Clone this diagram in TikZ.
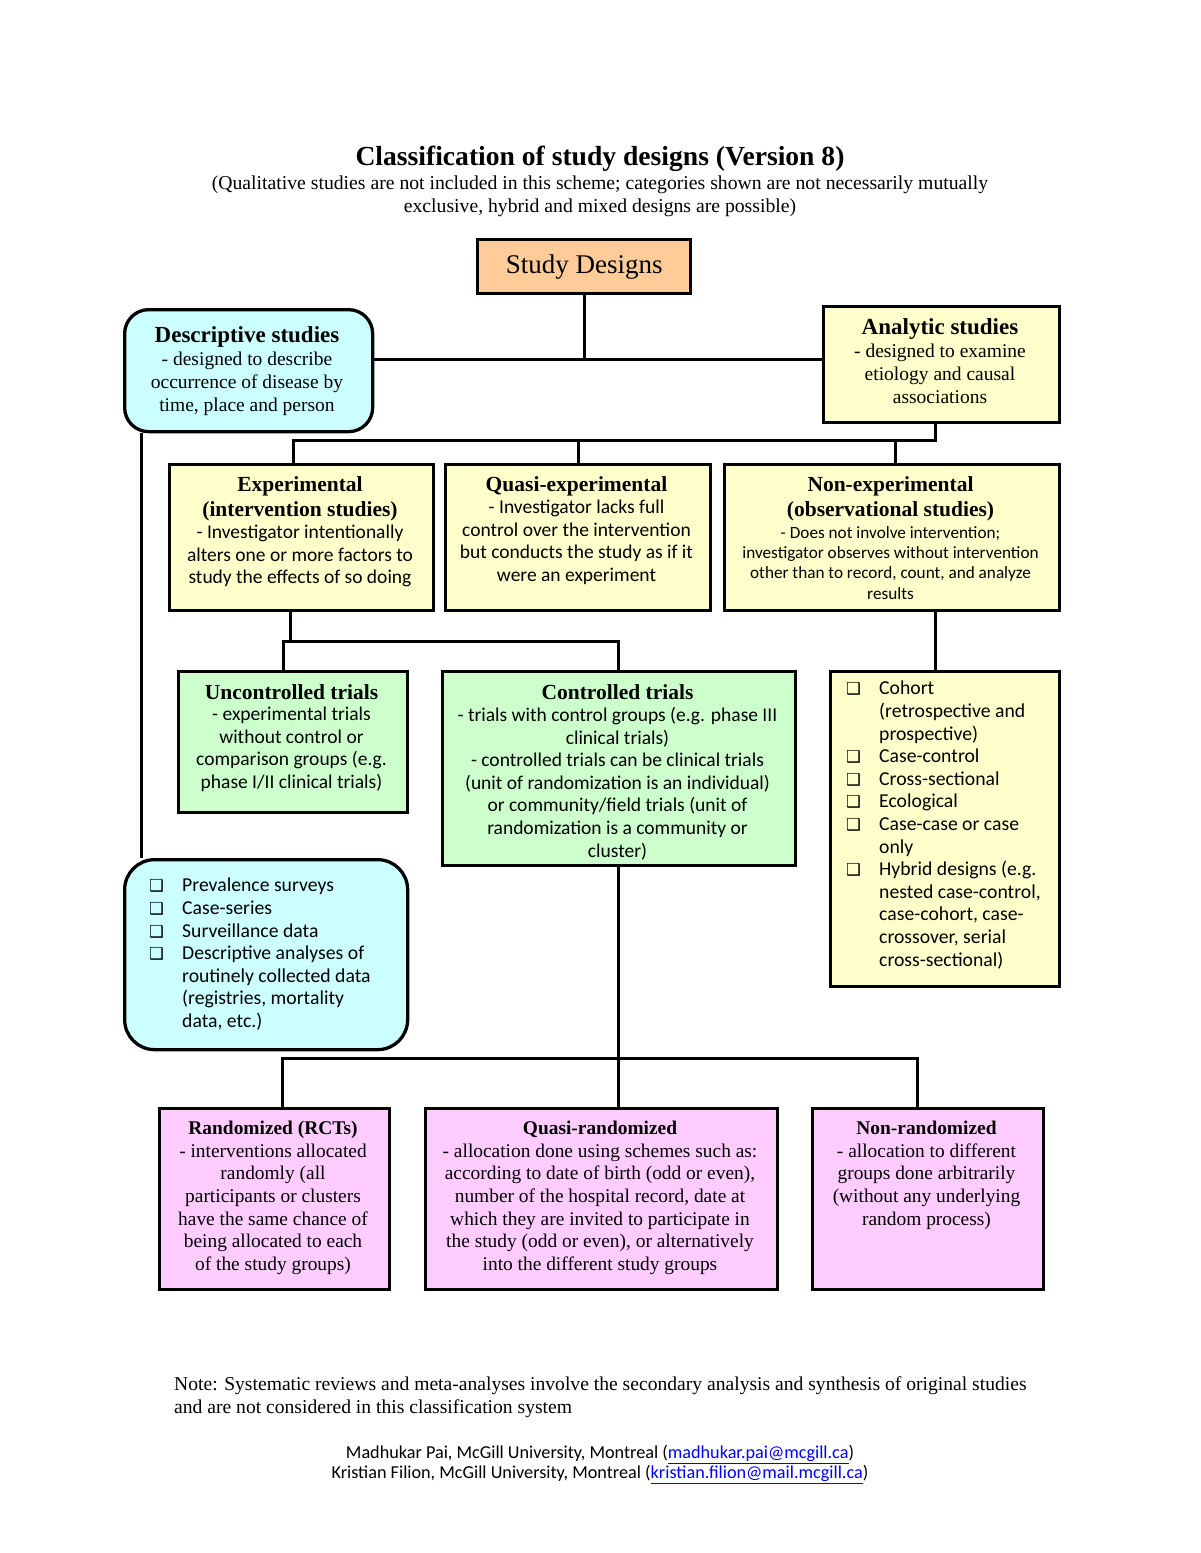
\documentclass[tikz,border=0pt]{standalone}
\usepackage{fontspec}
\setmainfont{Liberation Serif}
\newfontfamily\gill{Carlito}
\newfontfamily\dejavu{DejaVu Sans}
\newcommand{\chk}{{\dejavu\fontsize{16.5}{16.5}\selectfont ❑}}
\newcommand{\itm}{\makebox[33pt][l]{\chk}}
\newcommand{\ind}{\hspace*{33pt}}
\newcommand{\mail}[1]{\textcolor{linkblue}{\underline{#1}}}
\definecolor{cOrange}{HTML}{FFCC99}
\definecolor{cCyan}{HTML}{CCFFFF}
\definecolor{cYellow}{HTML}{FFFFCC}
\definecolor{cGreen}{HTML}{CCFFCC}
\definecolor{cPink}{HTML}{FFCCFF}
\definecolor{linkblue}{HTML}{0000FF}
\begin{document}
\begin{tikzpicture}[x=1pt,y=-1pt,
  box/.style={draw=black, line width=3.3pt, inner sep=0pt, anchor=north west},
  conn/.style={draw=black, line width=3pt},
  ttlA/.style={anchor=north, inner sep=0pt, align=center, font=\bfseries\fontsize{23}{25}\selectfont},
  ttlB/.style={anchor=north, inner sep=0pt, align=center, font=\bfseries\fontsize{21.5}{25}\selectfont},
  bodyS/.style={anchor=north, inner sep=0pt, align=center, font=\fontsize{19.5}{23}\selectfont},
  bodyP/.style={anchor=north, inner sep=0pt, align=center, font=\fontsize{19.4}{22.6}\selectfont},
  bodyG/.style={anchor=north, inner sep=0pt, align=center, font=\gill\fontsize{19.5}{22.6}\selectfont},
  bodyN/.style={anchor=north, inner sep=0pt, align=center, font=\gill\fontsize{17.2}{20.3}\selectfont},
  listG/.style={anchor=north west, inner sep=0pt, align=left, font=\gill\fontsize{19.7}{22.6}\selectfont},
]
\fill[white] (0,0) rectangle (1200,1553);
\useasboundingbox (0,0) rectangle (1200,1553);

% title
\node[anchor=north, inner sep=0pt, font=\bfseries\fontsize{27.6}{27.6}\selectfont] (title) at (600,146) {Classification of study designs (Version 8)};
\node[anchor=north, inner sep=0pt, align=center, font=\fontsize{19.7}{22.5}\selectfont] (sub) at (600,176) {(Qualitative studies are not included in this scheme; categories shown are not necessarily mutually\\exclusive, hybrid and mixed designs are possible)};

% study designs
\node[box, fill=cOrange, minimum width=213, minimum height=54, font=\fontsize{27}{27}\selectfont] (sd) at (476,238) {Study Designs};

% descriptive
\node[box, fill=cCyan, rounded corners=24pt, minimum width=248, minimum height=122] (desc) at (123,308) {};
\node[ttlA] (descT) at (247,326) {Descriptive studies};
\node[bodyS] (descB) at (247,352) {- designed to describe\\occurrence of disease by\\time, place and person};

% analytic
\node[box, fill=cYellow, minimum width=236, minimum height=116] (ana) at (822,305) {};
\node[ttlA] (anaT) at (940,318) {Analytic studies};
\node[bodyS] (anaB) at (940,344) {- designed to examine\\etiology and causal\\associations};

% experimental
\node[box, fill=cYellow, minimum width=264, minimum height=146] (exp) at (168,463) {};
\node[ttlB] (expT) at (300,476) {Experimental\\(intervention studies)};
\node[bodyG] (expB) at (300,525) {- Investigator intentionally\\alters one or more factors to\\study the effects of so doing};

% quasi-experimental
\node[box, fill=cYellow, minimum width=265, minimum height=146] (qex) at (444,463) {};
\node[ttlB] (qexT) at (576.5,476) {Quasi-experimental};
\node[bodyG] (qexB) at (576.5,500) {- Investigator lacks full\\control over the intervention\\but conducts the study as if it\\were an experiment};

% non-experimental
\node[box, fill=cYellow, minimum width=335, minimum height=146] (nex) at (723,463) {};
\node[ttlB] (nexT) at (890.5,476) {Non-experimental\\(observational studies)};
\node[bodyN] (nexB) at (890.5,526) {- Does not involve intervention;\\investigator observes without intervention\\other than to record, count, and analyze\\results};

% uncontrolled
\node[box, fill=cGreen, minimum width=229, minimum height=141] (unc) at (177,670) {};
\node[ttlB] (uncT) at (291.5,684) {Uncontrolled trials};
\node[bodyG] (uncB) at (291.5,707) {- experimental trials\\without control or\\comparison groups (e.g.\\phase I/II clinical trials)};

% controlled
\node[box, fill=cGreen, minimum width=353, minimum height=194] (ctl) at (441,670) {};
\node[ttlB] (ctlT) at (617.5,684) {Controlled trials};
\node[bodyG] (ctlB) at (617.5,707) {- trials with control groups (e.g. phase III\\clinical trials)\\- controlled trials can be clinical trials\\(unit of randomization is an individual)\\or community/field trials (unit of\\randomization is a community or\\cluster)};

% cohort list
\node[box, fill=cYellow, minimum width=229, minimum height=315] (coh) at (829,670) {};
\node[listG] (cohL) at (846,681) {\itm Cohort\\\ind (retrospective and\\\ind prospective)\\\itm Case-control\\\itm Cross-sectional\\\itm Ecological\\\itm Case-case or case\\\ind only\\\itm Hybrid designs (e.g.\\\ind nested case-control,\\\ind case-cohort, case-\\\ind crossover, serial\\\ind cross-sectional)};

% lower descriptive list
\node[box, fill=cCyan, rounded corners=30pt, minimum width=283, minimum height=190] (ldesc) at (123,858) {};
\node[listG] (ldescL) at (149,878) {\itm Prevalence surveys\\\itm Case-series\\\itm Surveillance data\\\itm Descriptive analyses of\\\ind routinely collected data\\\ind (registries, mortality\\\ind data, etc.)};

% bottom boxes
\node[box, fill=cPink, minimum width=230, minimum height=181] (rnd) at (158,1107) {};
\node[bodyP] (rndB) at (273,1121) {\textbf{Randomized (RCTs)}\\- interventions allocated\\randomly (all\\participants or clusters\\have the same chance of\\being allocated to each\\of the study groups)};
\node[box, fill=cPink, minimum width=352, minimum height=181] (qrd) at (424,1107) {};
\node[bodyP] (qrdB) at (600,1121) {\textbf{Quasi-randomized}\\- allocation done using schemes such as:\\according to date of birth (odd or even),\\number of the hospital record, date at\\which they are invited to participate in\\the study (odd or even), or alternatively\\into the different study groups};
\node[box, fill=cPink, minimum width=231, minimum height=181] (nrd) at (811,1107) {};
\node[bodyP] (nrdB) at (926.5,1121) {\textbf{Non-randomized}\\- allocation to different\\groups done arbitrarily\\(without any underlying\\random process)};

% note and credits
\node[anchor=north west, inner sep=0pt, align=left, font=\fontsize{19.6}{23}\selectfont] (note) at (174,1376) {Note: Systematic reviews and meta-analyses involve the secondary analysis and synthesis of original studies\\and are not considered in this classification system};
\node[anchor=north, inner sep=0pt, align=center, font=\gill\fontsize{18.2}{20}\selectfont] (cred) at (600,1445) {Madhukar Pai, McGill University, Montreal (\mail{madhukar.pai@mcgill.ca})\\Kristian Filion, McGill University, Montreal (\mail{kristian.filion@mail.mcgill.ca})};

% connectors
\coordinate (j1) at (582,359);
\draw[conn] (sd.south) -- (sd.south |- j1);
\draw[conn] (desc.east |- j1) -- (ana.west |- j1);

\coordinate (a1) at (935,440);
\coordinate (a2) at (293,440);
\coordinate (a3) at (895,440);
\draw[conn] (ana.south -| a1) -- (a1) -- (a2) -- (exp.north -| a2);
\draw[conn] (qex.north |- a1) -- (qex.north);
\draw[conn] (a3) -- (nex.north -| a3);

\coordinate (e1) at (290,641);
\coordinate (e2) at (283,641);
\coordinate (e3) at (618,641);
\draw[conn] (exp.south -| e1) -- (e1);
\draw[conn] (unc.north -| e2) -- (e2) -- (e3) -- (ctl.north -| e3);

\coordinate (n1) at (935,640);
\draw[conn] (nex.south -| n1) -- (coh.north -| n1);

\coordinate (d1) at (141,640);
\draw[conn] (desc.south -| d1) -- (ldesc.north -| d1);

\coordinate (c1) at (618,1058);
\coordinate (c2) at (282,1058);
\coordinate (c3) at (917,1058);
\draw[conn] (ctl.south -| c1) -- (c1) -- (qrd.north -| c1);
\draw[conn] (rnd.north -| c2) -- (c2) -- (c3) -- (nrd.north -| c3);
\end{tikzpicture}
\end{document}
